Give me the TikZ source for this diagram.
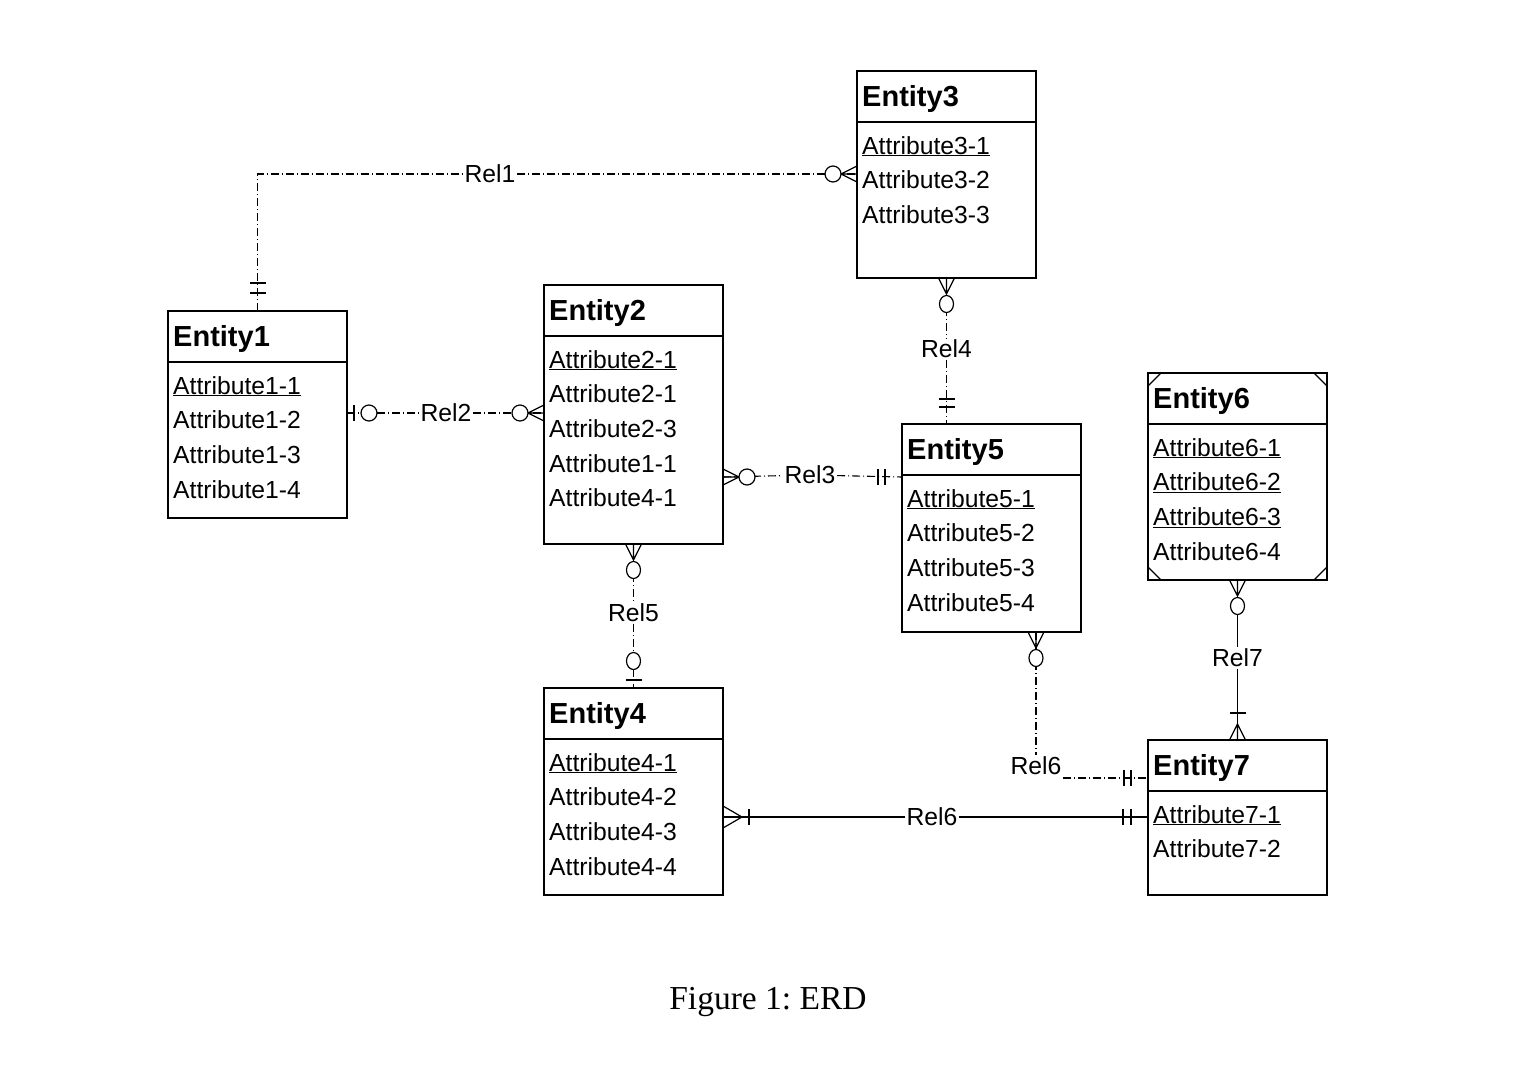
\documentclass[tikz,border=0pt]{standalone}
\usepackage{fontspec}
\setmainfont{Liberation Sans}
\newfontfamily\capfont{Liberation Serif}
\tikzset{
 ebox/.style={draw, line width=2pt, minimum width=179pt, inner sep=0pt, outer sep=0pt, anchor=north west},
 ediv/.style={line width=2pt},
 etitle/.style={anchor=base west, inner sep=0pt, font=\bfseries\fontsize{29}{33}\selectfont},
 eattr/.style={anchor=base west, inner sep=0pt, font=\fontsize{24.7}{29}\selectfont},
 rel/.style={line width=1.1pt, dash pattern=on 8pt off 3pt on 1pt off 3pt},
 relsolid/.style={line width=1.4pt},
 rlabel/.style={fill=white, inner sep=1.5pt, font=\fontsize{24.7}{29}\selectfont},
 sym/.style={line width=1.2pt, solid},
 pics/crowfoot/.style={code={\draw[sym] (0,-8) -- (-16,0) -- (0,8) (-16,0) -- (0,0);}},
 pics/crowfootwide/.style={code={\draw[sym] (0,-11) -- (-19,0) -- (0,11) (-19,0) -- (0,0);}},
 pics/ringat/.style={code={\draw[sym, fill=white] (-#1,0) circle [radius=8];}},
 pics/vringat/.style={code={\draw[sym, fill=white] (-#1,0) ellipse [x radius=8.5, y radius=7];}},
 pics/barat/.style={code={\draw[sym] (-#1,-8) -- (-#1,8);}},
}
\newcommand\erdentity[6]{%
 \node[ebox, minimum height=#4pt] (#1) at (#2,#3) {};
 \draw[ediv] ([yshift=-51pt]#1.north west) -- ([yshift=-51pt]#1.north east);
 \node[etitle] (#1-t) at ([xshift=5pt,yshift=-35pt]#1.north west) {#5};
 \foreach \attxt [count=\ai] in {#6}
   \node[eattr] (#1-a\ai) at ([xshift=5pt,yshift={-83pt-(\ai-1)*34.7pt}]#1.north west) {\attxt};
}
\begin{document}
\begin{tikzpicture}[x=1pt,y=-1pt]
\useasboundingbox[fill=white] (0,0) rectangle (1521,1071);

% entities
\erdentity{e1}{168}{311}{207}{Entity1}{\underline{Attribute1-1},Attribute1-2,Attribute1-3,Attribute1-4}
\erdentity{e2}{544}{285}{259}{Entity2}{\underline{Attribute2-1},Attribute2-1,Attribute2-3,Attribute1-1,Attribute4-1}
\erdentity{e3}{857}{71}{207}{Entity3}{\underline{Attribute3-1},Attribute3-2,Attribute3-3}
\erdentity{e4}{544}{688}{207}{Entity4}{\underline{Attribute4-1},Attribute4-2,Attribute4-3,Attribute4-4}
\erdentity{e5}{902}{424}{208}{Entity5}{\underline{Attribute5-1},Attribute5-2,Attribute5-3,Attribute5-4}
\erdentity{e6}{1148}{373}{207}{Entity6}{\underline{Attribute6-1},\underline{Attribute6-2},\underline{Attribute6-3},Attribute6-4}
\erdentity{e7}{1148}{740}{155}{Entity7}{\underline{Attribute7-1},Attribute7-2}

% Entity6 corner marks
\draw[line width=1.2pt] ([yshift=-13pt]e6.north west) -- ([xshift=13pt]e6.north west);
\draw[line width=1.2pt] ([xshift=-13pt]e6.north east) -- ([yshift=-13pt]e6.north east);
\draw[line width=1.2pt] ([yshift=13pt]e6.south west) -- ([xshift=13pt]e6.south west);
\draw[line width=1.2pt] ([yshift=13pt]e6.south east) -- ([xshift=-13pt]e6.south east);

% helper coordinates
\coordinate (r1y) at (0,174);
\coordinate (r2y) at (0,413);
\coordinate (r3y) at (0,477);
\coordinate (r6y) at (0,817);
\coordinate (r6by) at (0,778);
\coordinate (r6bx) at (1036,0);

% labels
\node[rlabel] (rl1) at (490,174) {Rel1};
\node[rlabel] (rl2) at (446,413) {Rel2};
\node[rlabel] (rl3) at (810,475) {Rel3};
\node[rlabel] (rl4) at (946.5,349) {Rel4};
\node[rlabel] (rl5) at (633.5,613) {Rel5};
\node[rlabel] (rl6) at (932,817) {Rel6};
\node[rlabel] (rl6b) at (1036,766) {Rel6};
\node[rlabel] (rl7) at (1237.5,658) {Rel7};

% Rel1
\draw[rel] (e1.north) -- (e1.north |- r1y) -- (rl1) -- (e3.west |- r1y);
\pic[rotate=-90] at (e1.north) {barat=18};
\pic[rotate=-90] at (e1.north) {barat=28};
\pic at (e3.west |- r1y) {crowfoot};
\pic at (e3.west |- r1y) {ringat=24};

% Rel2
\draw[rel] (e1.east |- r2y) -- (rl2) -- (e2.west |- r2y);
\pic[rotate=180] at (e1.east |- r2y) {barat=7};
\pic[rotate=180] at (e1.east |- r2y) {ringat=22};
\pic at (e2.west |- r2y) {crowfoot};
\pic at (e2.west |- r2y) {ringat=24};

% Rel3
\draw[rel] (e2.east |- r3y) -- (rl3) -- (e5.west |- r3y);
\pic[rotate=180] at (e2.east |- r3y) {crowfoot};
\pic[rotate=180] at (e2.east |- r3y) {ringat=24};
\pic at (e5.west |- r3y) {barat=17};
\pic at (e5.west |- r3y) {barat=24};

% Rel4
\draw[rel] (e3.south) -- (rl4) -- (e3.south |- e5.north);
\pic[rotate=90] at (e3.south) {crowfoot};
\pic[rotate=90] at (e3.south) {vringat=26};
\pic[rotate=-90] at (e3.south |- e5.north) {barat=17};
\pic[rotate=-90] at (e3.south |- e5.north) {barat=25};

% Rel5
\draw[rel] (e2.south) -- (rl5) -- (e4.north);
\pic[rotate=90] at (e2.south) {crowfoot};
\pic[rotate=90] at (e2.south) {vringat=26};
\pic[rotate=-90] at (e4.north) {barat=8};
\pic[rotate=-90] at (e4.north) {vringat=27};

% Rel6 (solid)
\draw[relsolid] (e4.east |- r6y) -- (rl6) -- (e7.west |- r6y);
\pic[rotate=180] at (e4.east |- r6y) {crowfootwide};
\pic[rotate=180] at (e4.east |- r6y) {barat=26};
\pic at (e7.west |- r6y) {barat=17};
\pic at (e7.west |- r6y) {barat=25};

% Rel6 (dashed)
\draw[rel] (e5.south -| r6bx) -- (rl6b.north);
\draw[rel] (rl6b.east |- r6by) -- (e7.west |- r6by);
\pic[rotate=90] at (e5.south -| r6bx) {crowfoot};
\pic[rotate=90] at (e5.south -| r6bx) {vringat=26};
\pic at (e7.west |- r6by) {barat=17};
\pic at (e7.west |- r6by) {barat=24};

% Rel7
\draw[relsolid] (e6.south) -- (rl7) -- (e7.north);
\pic[rotate=90] at (e6.south) {crowfoot};
\pic[rotate=90] at (e6.south) {vringat=26};
\pic[rotate=-90] at (e7.north) {crowfoot};
\pic[rotate=-90] at (e7.north) {barat=27};

% caption
\node[font=\capfont\fontsize{33.5}{38}\selectfont] (cap) at (768,1002) {Figure 1:\ ERD};
\end{tikzpicture}
\end{document}
